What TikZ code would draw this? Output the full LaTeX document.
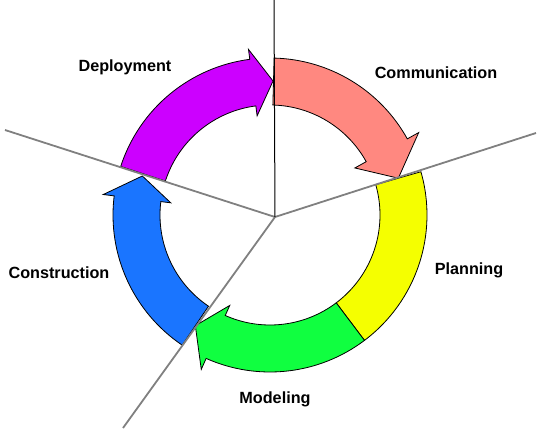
\documentclass[tikz,border=0pt]{standalone}
\usepackage{fontspec}
\setmainfont{Liberation Sans}
\usepackage{tikz}
\usepackage{xcolor}

\definecolor{commpink}{RGB}{255,136,128}
\definecolor{planyellow}{RGB}{245,255,0}
\definecolor{modgreen}{RGB}{16,255,64}
\definecolor{consblue}{RGB}{26,117,255}
\definecolor{deppurple}{RGB}{204,0,255}

\tikzset{
  segment/.style={draw=black, line width=0.8pt, line join=miter},
  axisline/.style={draw=gray, line width=1.8pt},
  phase/.style={font=\fontsize{16.2}{19}\selectfont\bfseries}
}

\begin{document}
\begin{tikzpicture}[x=1pt,y=1pt]
            \useasboundingbox (-270,-213) rectangle (273,215);
            % ring of five phases, all running clockwise
            \filldraw[segment, fill=commpink](88.5:157) arc[start angle=88.5, end angle=29, radius=157] -- (29:170) -- (16:133.5) -- (29:97) -- (29:110) arc[start angle=29, end angle=88.5, radius=110] -- cycle;
            \filldraw[segment, fill=planyellow](16:157) arc[start angle=16, end angle=-53, radius=157] -- (-53:110) arc[start angle=-53, end angle=16, radius=110] -- cycle;
            \filldraw[segment, fill=modgreen](-53:157) arc[start angle=-53, end angle=-114, radius=157] -- (-114:169) -- (-124:133.5) -- (-114:99) -- (-114:110) arc[start angle=-114, end angle=-53, radius=110] -- cycle;
            \filldraw[segment, fill=consblue](236:157) arc[start angle=236, end angle=173, radius=157] -- (173:168) -- (163:133.5) -- (173:100) -- (173:110) arc[start angle=173, end angle=236, radius=110] -- cycle;
            \filldraw[segment, fill=deppurple](162:157) arc[start angle=162, end angle=97.4, radius=157] -- (97.4:167) -- (88.7:134) -- (97.4:100) -- (97.4:110) arc[start angle=97.4, end angle=162, radius=110] -- cycle;
            % dividing lines
            \coordinate (hub) at (5,-2);
            \coordinate (topend) at (4,215);
            \coordinate (leftend) at (-265,85);
            \coordinate (rightend) at (266,82);
            \coordinate (downend) at (-147,-213);
            \draw[axisline] (hub) -- (leftend);
            \draw[axisline] (hub) -- (rightend);
            \draw[axisline] (hub) -- (downend);
            \draw[black, line width=1pt] (hub) -- (topend);
            % phase names
            \node[phase] (deploy) at (-145,148) {Deployment};
            \node[phase] (comm) at (166,142) {Communication};
            \node[phase] (plan) at (199,-55) {Planning};
            \node[phase] (constr) at (-211,-58) {Construction};
            \node[phase] (model) at (5,-184) {Modeling};
\end{tikzpicture}
\end{document}
